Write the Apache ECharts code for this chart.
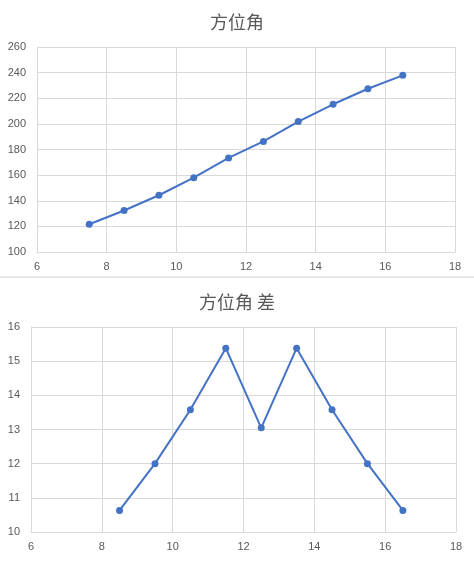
<!DOCTYPE html>
<html>
<head>
<meta charset="utf-8">
<script src="https://cdn.jsdelivr.net/npm/echarts@6/dist/echarts.min.js"></script>
<style>html,body{margin:0;padding:0;background:#fff}#c{width:474px;height:564px}</style>
</head>
<body>
<div id="c"></div>
<script>
var titleTop = '方位角';
var titleBottom = '方位角 差';
var xTop = [7.5, 8.5, 9.5, 10.5, 11.5, 12.5, 13.5, 14.5, 15.5, 16.5];
var azimuth = [121.7, 132.4, 144.3, 158.0, 173.4, 186.3, 201.8, 215.3, 227.4, 237.9];
var xBottom = [8.5, 9.5, 10.5, 11.5, 12.5, 13.5, 14.5, 15.5, 16.5];
var azimuthDiff = [10.63, 12.0, 13.58, 15.38, 13.05, 15.38, 13.58, 12.0, 10.63];

function pairs(xs, ys) { return xs.map(function (x, i) { return [x, ys[i]]; }); }

var grid = '#d9d9d9', txt = '#595959', blue = '#4472C4';
var font = '"Liberation Sans", Arial, sans-serif';
function xAx(gi) {
  return { type: 'value', gridIndex: gi, min: 6, max: 18, interval: 2,
    axisLine: { show: true, lineStyle: { color: grid } }, axisTick: { show: false },
    splitLine: { show: true, lineStyle: { color: grid } },
    axisLabel: { color: txt, fontSize: 11, fontFamily: font, margin: 9 } };
}
function yAx(gi, mn, mx, iv) {
  return { type: 'value', gridIndex: gi, min: mn, max: mx, interval: iv,
    axisLine: { show: true, lineStyle: { color: grid } }, axisTick: { show: false },
    splitLine: { show: true, lineStyle: { color: grid } },
    axisLabel: { color: txt, fontSize: 11, fontFamily: font, margin: 11 } };
}
var chart = echarts.init(document.getElementById('c'));
chart.setOption({
  animation: false,
  title: [
    { text: titleTop, left: 'center', top: 8, textStyle: { color: txt, fontSize: 18, fontWeight: 'normal', fontFamily: '"Noto Sans CJK SC", sans-serif' } },
    { text: titleBottom, left: 'center', top: 288, textStyle: { color: txt, fontSize: 18, fontWeight: 'normal', fontFamily: '"Noto Sans CJK SC", sans-serif' } }
  ],
  grid: [
    { left: 37, right: 19, top: 47, height: 205 },
    { left: 31, right: 18, top: 327, height: 205 }
  ],
  xAxis: [xAx(0), xAx(1)],
  yAxis: [yAx(0, 100, 260, 20), yAx(1, 10, 16, 1)],
  graphic: [{ type: 'rect', shape: { x: 0, y: 276, width: 474, height: 2 }, style: { fill: '#e6e6e6' } }],
  series: [
    { type: 'line', xAxisIndex: 0, yAxisIndex: 0, data: pairs(xTop, azimuth),
      symbol: 'circle', symbolSize: 7, lineStyle: { color: blue, width: 2 }, itemStyle: { color: blue } },
    { type: 'line', xAxisIndex: 1, yAxisIndex: 1, data: pairs(xBottom, azimuthDiff),
      symbol: 'circle', symbolSize: 7, lineStyle: { color: blue, width: 2 }, itemStyle: { color: blue } }
  ]
});
</script>
</body>
</html>
